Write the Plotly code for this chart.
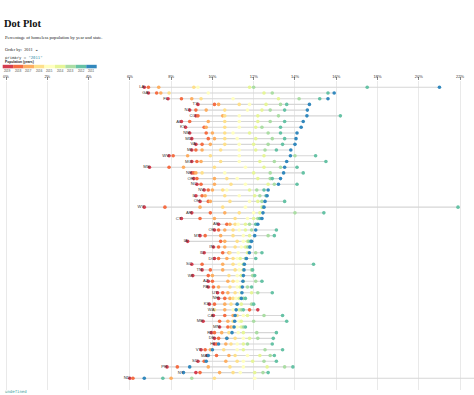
import plotly.graph_objects as go

states = ["LA","GA","FL","TX","NJ","CO","AL","KY","NM","MD","VA","MI","WV","MO","MS","NE","OR","NC","NV","IL",
          "OH","WY","AR","CT","AK","OK","MT","IA","IN","ID","DC","SC","TN","WI","AZ","PA","UT","NH","KS","WA",
          "CA","ME","MN","RI","DE","HI","VT","MA","SD","PR","NY","ND"]
years = ["2019","2018","2017","2016","2015","2014","2013","2012","2011"]

y2019 = [6.7,6.9,7.85,9.3,8.9,9.2,8.5,8.7,8.9,9.0,9.2,9.0,7.9,9.0,6.95,9.0,9.1,9.25,9.6,9.2,
         9.4,6.7,9.0,8.5,10.3,10.1,9.4,8.8,10.05,9.6,10.1,9.0,9.5,9.05,9.8,9.8,10.25,10.3,9.85,12.2,
         10.05,9.55,10.35,9.95,10.1,10.1,9.45,9.75,9.3,7.8,9.2,6.0]
y2018 = [6.9,7.3,8.5,10.1,9.2,9.3,8.9,9.6,9.7,9.8,9.5,9.2,8.1,9.25,7.9,9.1,9.25,9.45,9.8,9.5,
         9.8,7.7,9.9,9.4,10.7,10.3,9.65,10.4,10.3,10.5,10.3,9.5,9.9,9.8,10.0,10.05,10.5,10.6,10.1,11.8,
         10.6,10.35,10.75,10.1,10.3,10.2,9.65,10.2,9.6,8.3,9.4,6.15]
y2017 = [7.4,7.5,9.0,10.3,9.7,10.5,9.8,9.7,10.0,10.1,9.9,9.5,8.8,9.45,8.6,9.2,10.1,10.1,10.0,9.65,
         9.9,9.4,10.6,10.1,10.85,10.6,10.4,10.6,10.6,10.8,10.7,10.5,10.5,10.0,10.75,10.3,10.75,10.85,10.6,10.6,
         11.0,10.75,10.9,10.45,10.7,10.65,9.9,10.8,10.65,9.8,10.35,8.0]
y2016 = [9.1,7.9,9.45,11.3,10.6,10.6,10.6,10.6,10.6,10.6,10.6,10.4,9.9,10.4,10.1,9.5,10.7,10.9,10.5,10.6,
         10.85,10.5,11.3,11.1,11.1,11.0,11.0,11.2,11.1,10.85,11.0,11.0,11.1,10.8,11.0,10.85,11.1,11.0,10.9,10.1,
         11.2,11.0,11.0,10.8,11.1,10.9,10.55,11.1,11.2,10.85,11.0,10.1]
y2015 = [9.3,9.8,11.0,11.8,11.7,11.3,11.3,11.3,11.0,11.2,11.3,11.3,11.3,11.3,11.6,10.6,11.2,11.6,10.7,11.3,
         11.8,11.6,12.0,11.7,11.25,11.3,11.5,11.5,11.4,11.25,11.2,11.3,11.3,11.2,11.2,11.2,11.35,11.15,11.2,11.0,
         11.5,11.3,11.2,11.25,11.5,11.2,11.2,11.7,11.5,11.5,11.35,12.05]
y2014 = [11.8,12.5,13.2,12.6,12.4,12.2,12.2,12.1,11.8,12.1,12.0,12.1,12.5,12.3,12.5,12.0,12.2,12.7,11.8,12.05,
         12.2,12.4,12.3,12.0,11.6,11.6,11.8,11.7,11.6,11.7,11.35,11.5,11.5,11.4,11.5,11.35,11.9,11.3,11.4,11.3,
         11.7,11.4,11.4,11.5,11.8,11.5,11.5,12.3,11.95,12.65,12.05,22.8]
y2013 = [12.0,12.9,14.2,13.3,12.8,13.2,12.8,12.4,12.7,12.9,12.7,12.55,14.0,13.0,13.3,12.8,12.8,13.0,12.15,12.3,
         12.4,12.45,14.0,12.2,11.8,11.9,12.7,11.75,11.7,12.1,11.6,11.52,11.9,11.95,12.1,11.7,12.2,11.5,11.9,11.4,
         12.5,12.0,11.5,12.15,12.2,11.7,12.55,12.8,12.5,13.5,12.45,9.0]
y2012 = [17.5,15.6,15.2,13.6,13.5,16.2,13.5,13.3,13.3,13.5,13.4,13.1,15.0,15.5,14.1,14.4,12.9,14.1,12.5,12.6,
         13.5,21.9,15.4,12.3,12.1,13.1,13.0,11.85,11.8,12.4,12.1,14.9,11.95,12.05,12.4,11.9,12.9,11.6,12.0,11.5,
         13.4,13.6,11.6,13.1,12.95,12.9,13.4,13.0,13.1,13.9,12.7,7.6]
y2011 = [21.0,15.9,15.6,14.7,14.6,14.58,14.4,14.3,14.1,14.05,14.0,13.8,13.78,13.6,13.5,13.45,13.3,13.2,12.7,12.65,
         12.55,12.5,12.45,12.4,12.2,12.1,12.05,11.9,11.82,11.79,11.65,11.55,11.53,11.5,11.48,11.45,11.43,11.4,11.2,11.15,
         11.1,11.08,11.05,10.95,10.7,10.3,10.0,9.8,9.7,8.9,8.6,6.7]

x_ticks = [0, 2, 4, 6, 8, 10, 12, 14, 16, 18, 20, 22]
x_ticktext = [f"{t}%" for t in x_ticks]

series = [y2019, y2018, y2017, y2016, y2015, y2014, y2013, y2012, y2011]
colors = ["#d53e4f", "#f46d43", "#fdae61", "#fee08b", "#ffffbf", "#e6f598", "#abdda4", "#66c2a5", "#3288bd"]

# order by 2011 (primary)
order = sorted(range(len(states)), key=lambda i: -y2011[i])
rank = {i: r for r, i in enumerate(order)}

W, H = 474, 395
def py(px):
    return 1 - px / H
def pxx(px):
    return px / W

row_top, row_step = 87.3, 5.706
dom_top_px, dom_bot_px = 80.5, 390
y_range = [(dom_bot_px - row_top) / row_step, (dom_top_px - row_top) / row_step]
x0px, xscale = 6.0, 20.64
x_range = [(0 - x0px) / xscale, (W - x0px) / xscale]

fig = go.Figure()

# range lines
lx, ly = [], []
for i in range(len(states)):
    vals = [s[i] for s in series]
    lx += [min(vals), max(vals), None]
    ly += [rank[i], rank[i], None]
fig.add_trace(go.Scatter(x=lx, y=ly, mode="lines", line=dict(color="#d6d6d6", width=1.1),
                         hoverinfo="skip", showlegend=False))

# dots
for yr, s, c in zip(years, series, colors):
    fig.add_trace(go.Scatter(x=s, y=[rank[i] for i in range(len(states))], mode="markers",
                             marker=dict(color=c, size=3.6, line=dict(width=0)),
                             name=yr, showlegend=False))

# state labels
mins = [min(s[i] for s in series) for i in range(len(states))]
fig.add_trace(go.Scatter(x=mins, y=[rank[i] for i in range(len(states))], mode="text",
                         text=states, textposition="middle left",
                         textfont=dict(size=4.2, color="#333", family="Liberation Sans"),
                         hoverinfo="skip", showlegend=False))

shapes = []
annotations = []

# legend swatches
lg_x0, lg_x1 = 2.7, 96.7
sw = (lg_x1 - lg_x0) / len(years)
for k, (yr, c) in enumerate(zip(years, colors)):
    shapes.append(dict(type="rect", xref="paper", yref="paper",
                       x0=pxx(lg_x0 + k * sw), x1=pxx(lg_x0 + (k + 1) * sw),
                       y0=py(68.3), y1=py(64.8), fillcolor=c, line=dict(width=0)))
    annotations.append(dict(text=yr, xref="paper", yref="paper", x=pxx(lg_x0 + (k + 0.5) * sw),
                            y=py(70.6), xanchor="center", yanchor="middle", showarrow=False,
                            font=dict(size=2.8, color="#444", family="Liberation Sans")))
annotations.append(dict(text="<b>Population (years)</b>", xref="paper", yref="paper", x=pxx(2.7), y=py(61.6),
                        xanchor="left", yanchor="middle", showarrow=False,
                        font=dict(size=3.3, color="#222", family="Liberation Sans")))

annotations += [
    dict(text="<b>Dot Plot</b>", xref="paper", yref="paper", x=pxx(2.3), y=py(23.2), xanchor="left",
         yanchor="middle", showarrow=False, font=dict(size=10.5, color="#111", family="Liberation Serif")),
    dict(text="Percentage of homeless population by year and state.", xref="paper", yref="paper",
         x=pxx(2.5), y=py(37.2), xanchor="left", yanchor="middle", showarrow=False,
         font=dict(size=4.6, color="#222", family="Liberation Serif")),
    dict(text="Order by:  2011  <b>⌄</b>", xref="paper", yref="paper",
         x=pxx(2.5), y=py(49.3), xanchor="left", yanchor="middle", showarrow=False,
         font=dict(size=4.4, color="#222", family="Liberation Serif")),
    dict(text='primary = <span style="color:#2a8aa6">"2011"</span>', xref="paper", yref="paper",
         x=pxx(2.5), y=py(57.4), xanchor="left", yanchor="middle", showarrow=False,
         font=dict(size=3.9, color="#333", family="DejaVu Sans Mono")),
    dict(text="undefined", xref="paper", yref="paper",
         x=pxx(2.5), y=py(391.5), xanchor="left", yanchor="middle", showarrow=False,
         font=dict(size=4.0, color="#3e9e9a", family="DejaVu Sans Mono")),
]

fig.update_layout(
    width=W, height=H, margin=dict(l=0, r=0, t=0, b=0),
    paper_bgcolor="white", plot_bgcolor="white", showlegend=False,
    shapes=shapes, annotations=annotations,
    xaxis=dict(side="top", range=x_range, tickvals=x_ticks, ticktext=x_ticktext,
               ticks="outside", ticklen=2.5, tickwidth=0.6, tickcolor="#888",
               ticklabelstandoff=-3,
               tickfont=dict(size=4, color="#333", family="Liberation Sans"),
               showgrid=True, gridcolor="#e9e9e9", gridwidth=0.6, zeroline=False, showline=False,
               fixedrange=True),
    yaxis=dict(range=y_range, domain=[py(dom_bot_px), py(dom_top_px)], visible=False, fixedrange=True),
)

fig.write_html("out.html", config={"displayModeBar": False},
               post_script="document.body.style.margin='0';document.body.style.overflow='hidden';")
